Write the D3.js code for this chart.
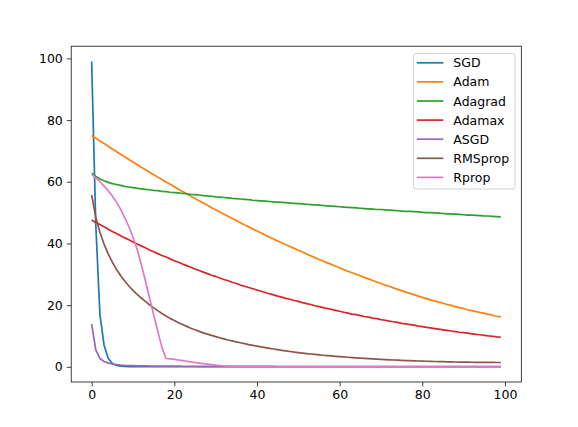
<!DOCTYPE html>
<html>
<head>
<meta charset="utf-8">
<script src="https://cdn.jsdelivr.net/npm/d3@7"></script>
<style>
  html, body { margin: 0; padding: 0; background: #fff; }
  svg { display: block; font-family: "DejaVu Sans", sans-serif; }
</style>
</head>
<body>
<div id="chart"></div>
<script>
// loss curves per optimizer, one value per epoch (0..99)
const sgd = [99, 46, 17, 7, 2.8, 1.1, 0.45, 0.2, 0.1, 0.06,
  0.05, 0.04, 0.04, 0.03, 0.03, 0.03, 0.03, 0.02, 0.02, 0.02,
  0.02, 0.02, 0.02, 0.02, 0.02, 0.02, 0.02, 0.02, 0.02, 0.02,
  0.02, 0.02, 0.02, 0.02, 0.02, 0.02, 0.02, 0.02, 0.02, 0.02,
  0.02, 0.02, 0.02, 0.02, 0.02, 0.02, 0.02, 0.02, 0.02, 0.02,
  0.02, 0.02, 0.02, 0.02, 0.02, 0.02, 0.02, 0.02, 0.02, 0.02,
  0.02, 0.02, 0.02, 0.02, 0.02, 0.02, 0.02, 0.02, 0.02, 0.02,
  0.02, 0.02, 0.02, 0.02, 0.02, 0.02, 0.02, 0.02, 0.02, 0.02,
  0.02, 0.02, 0.02, 0.02, 0.02, 0.02, 0.02, 0.02, 0.02, 0.02,
  0.02, 0.02, 0.02, 0.02, 0.02, 0.02, 0.02, 0.02, 0.02, 0.02];

const adam = [75.0, 74.1, 73.2, 72.4, 71.5, 70.6, 69.8, 68.9, 68.1, 67.2,
  66.4, 65.6, 64.7, 63.9, 63.1, 62.3, 61.5, 60.7, 59.9, 59.2,
  58.4, 57.6, 56.8, 56.1, 55.3, 54.6, 53.8, 53.1, 52.4, 51.6,
  50.9, 50.2, 49.5, 48.8, 48.1, 47.4, 46.7, 46.0, 45.4, 44.7,
  44.0, 43.4, 42.7, 42.1, 41.4, 40.8, 40.2, 39.6, 39.0, 38.4,
  37.8, 37.2, 36.6, 36.0, 35.4, 34.8, 34.3, 33.7, 33.2, 32.6,
  32.1, 31.5, 31.0, 30.5, 30.0, 29.5, 29.0, 28.5, 28.0, 27.5,
  27.0, 26.5, 26.1, 25.6, 25.1, 24.7, 24.2, 23.8, 23.4, 22.9,
  22.5, 22.1, 21.7, 21.3, 21.0, 20.6, 20.2, 19.9, 19.5, 19.2,
  18.9, 18.5, 18.2, 17.9, 17.6, 17.3, 17.0, 16.7, 16.4, 16.2];

const adagrad = [62.8, 61.7, 60.9, 60.3, 59.8, 59.4, 59.1, 58.8, 58.5, 58.3,
  58.1, 57.9, 57.7, 57.5, 57.4, 57.2, 57.1, 56.9, 56.8, 56.6,
  56.5, 56.4, 56.2, 56.1, 55.9, 55.8, 55.7, 55.5, 55.4, 55.3,
  55.1, 55.0, 54.9, 54.8, 54.6, 54.5, 54.4, 54.3, 54.2, 54.0,
  53.9, 53.8, 53.7, 53.6, 53.5, 53.4, 53.3, 53.2, 53.1, 53.0,
  52.9, 52.8, 52.7, 52.6, 52.5, 52.4, 52.3, 52.2, 52.1, 52.0,
  51.9, 51.8, 51.7, 51.6, 51.5, 51.4, 51.3, 51.2, 51.1, 51.0,
  51.0, 50.9, 50.8, 50.7, 50.6, 50.5, 50.4, 50.4, 50.3, 50.2,
  50.1, 50.0, 50.0, 49.9, 49.8, 49.7, 49.6, 49.6, 49.5, 49.4,
  49.3, 49.2, 49.2, 49.1, 49.0, 48.9, 48.9, 48.8, 48.7, 48.6];

const adamax = [47.6, 46.8, 46.1, 45.4, 44.6, 43.9, 43.2, 42.5, 41.8, 41.2,
  40.5, 39.8, 39.2, 38.6, 37.9, 37.3, 36.7, 36.1, 35.6, 35.0,
  34.4, 33.9, 33.3, 32.8, 32.3, 31.7, 31.2, 30.7, 30.2, 29.7,
  29.3, 28.8, 28.3, 27.9, 27.4, 27.0, 26.5, 26.1, 25.7, 25.3,
  24.9, 24.5, 24.1, 23.7, 23.3, 22.9, 22.6, 22.2, 21.9, 21.5,
  21.2, 20.8, 20.5, 20.2, 19.8, 19.5, 19.2, 18.9, 18.6, 18.3,
  18.0, 17.7, 17.4, 17.1, 16.9, 16.6, 16.3, 16.1, 15.8, 15.6,
  15.3, 15.1, 14.8, 14.6, 14.4, 14.1, 13.9, 13.7, 13.5, 13.2,
  13.0, 12.8, 12.6, 12.4, 12.2, 12.0, 11.8, 11.6, 11.4, 11.2,
  11.1, 10.9, 10.7, 10.5, 10.4, 10.2, 10.0, 9.9, 9.7, 9.6];

const asgd = [13.8, 5.5, 2.7, 1.7, 1.2, 0.9, 0.7, 0.55, 0.45, 0.4,
  0.35, 0.32, 0.3, 0.28, 0.26, 0.25, 0.24, 0.23, 0.22, 0.21,
  0.2, 0.19, 0.18, 0.18, 0.17, 0.17, 0.16, 0.16, 0.15, 0.15,
  0.14, 0.14, 0.14, 0.13, 0.13, 0.13, 0.12, 0.12, 0.12, 0.12,
  0.11, 0.11, 0.11, 0.11, 0.11, 0.1, 0.1, 0.1, 0.1, 0.1,
  0.1, 0.1, 0.1, 0.1, 0.1, 0.1, 0.1, 0.1, 0.1, 0.1,
  0.1, 0.1, 0.1, 0.1, 0.1, 0.1, 0.1, 0.1, 0.1, 0.1,
  0.1, 0.1, 0.1, 0.1, 0.1, 0.1, 0.1, 0.1, 0.1, 0.1,
  0.1, 0.1, 0.1, 0.1, 0.1, 0.1, 0.1, 0.1, 0.1, 0.1,
  0.1, 0.1, 0.1, 0.1, 0.1, 0.1, 0.1, 0.1, 0.1, 0.1];

const rmsprop = [55.7, 48.5, 43.6, 39.8, 36.6, 33.9, 31.6, 29.6, 27.8, 26.2,
  24.8, 23.5, 22.3, 21.2, 20.1, 19.1, 18.2, 17.3, 16.5, 15.7,
  15.0, 14.3, 13.7, 13.1, 12.5, 12.0, 11.5, 11.0, 10.6, 10.2,
  9.8, 9.4, 9.05, 8.7, 8.4, 8.1, 7.8, 7.5, 7.2, 6.95,
  6.7, 6.45, 6.2, 5.98, 5.76, 5.55, 5.35, 5.15, 4.96, 4.78,
  4.61, 4.45, 4.3, 4.15, 4.0, 3.87, 3.75, 3.63, 3.52, 3.41,
  3.3, 3.2, 3.1, 3.0, 2.9, 2.81, 2.72, 2.64, 2.56, 2.48,
  2.41, 2.34, 2.27, 2.21, 2.15, 2.09, 2.03, 1.98, 1.93, 1.88,
  1.84, 1.8, 1.76, 1.72, 1.68, 1.65, 1.62, 1.59, 1.56, 1.54,
  1.52, 1.5, 1.48, 1.46, 1.44, 1.43, 1.42, 1.41, 1.4, 1.4];

const rprop = [62.4, 61.3, 60.0, 58.6, 57.1, 55.4, 53.4, 51.1, 48.4, 45.4,
  42.0, 38.1, 33.2, 27.9, 22.4, 16.9, 11.5, 6.3, 2.7, 2.55,
  2.4, 2.2, 2.0, 1.8, 1.6, 1.4, 1.2, 1.0, 0.85, 0.7,
  0.55, 0.42, 0.3, 0.22, 0.15, 0.1, 0.08, 0.06, 0.05, 0.05,
  0.04, 0.04, 0.04, 0.04, 0.04, 0.04, 0.04, 0.04, 0.04, 0.04,
  0.04, 0.04, 0.04, 0.04, 0.04, 0.04, 0.04, 0.04, 0.04, 0.04,
  0.04, 0.04, 0.04, 0.04, 0.04, 0.04, 0.04, 0.04, 0.04, 0.04,
  0.04, 0.04, 0.04, 0.04, 0.04, 0.04, 0.04, 0.04, 0.04, 0.04,
  0.04, 0.04, 0.04, 0.04, 0.04, 0.04, 0.04, 0.04, 0.04, 0.04,
  0.04, 0.04, 0.04, 0.04, 0.04, 0.04, 0.04, 0.04, 0.04, 0.04];

const seriesNames = ['SGD', 'Adam', 'Adagrad', 'Adamax', 'ASGD', 'RMSprop', 'Rprop'];
const seriesValues = [sgd, adam, adagrad, adamax, asgd, rmsprop, rprop];
const xTicks = [0, 20, 40, 60, 80, 100];
const yTicks = [0, 20, 40, 60, 80, 100];

const colors = ['#1f77b4', '#ff7f0e', '#2ca02c', '#d62728', '#9467bd', '#8c564b', '#e377c2'];

const width = 578;
const height = 427;
const margin = { top: 46.2, right: 56.7, bottom: 45, left: 71.2 };
const plotW = width - margin.left - margin.right;
const plotH = height - margin.top - margin.bottom;

const svg = d3.select('#chart').append('svg')
  .attr('width', width)
  .attr('height', height);

// matplotlib style 5% margins around the data
const xMax = 99;
const yMin = d3.min(seriesValues, (s) => d3.min(s));
const yMax = d3.max(seriesValues, (s) => d3.max(s));
const xPad = xMax * 0.05;
const yPad = (yMax - yMin) * 0.05;

const x = d3.scaleLinear()
  .domain([-xPad, xMax + xPad])
  .range([0, plotW]);
const y = d3.scaleLinear()
  .domain([yMin - yPad, yMax + yPad])
  .range([plotH, 0]);

const g = svg.append('g')
  .attr('transform', `translate(${margin.left},${margin.top})`);

const line = d3.line()
  .x((d, i) => x(i))
  .y((d) => y(d));

g.selectAll('.series')
  .data(seriesValues)
  .enter().append('path')
  .attr('class', 'series')
  .attr('fill', 'none')
  .attr('stroke', (d, i) => colors[i])
  .attr('stroke-width', 1.7)
  .attr('stroke-linejoin', 'round')
  .attr('stroke-linecap', 'butt')
  .attr('d', line);

// axes
const xAxis = d3.axisBottom(x).tickValues(xTicks).tickSize(4.4).tickPadding(4);
const yAxis = d3.axisLeft(y).tickValues(yTicks).tickSize(4.4).tickPadding(4);

const xg = g.append('g')
  .attr('transform', `translate(0,${plotH})`)
  .call(xAxis);
const yg = g.append('g').call(yAxis);

[xg, yg].forEach((ax) => {
  ax.select('.domain').remove();
  ax.selectAll('.tick line').attr('stroke', '#000').attr('stroke-width', 0.75);
  ax.selectAll('.tick text')
    .attr('fill', '#000')
    .style('font-family', '"DejaVu Sans", sans-serif')
    .style('font-size', '12.5px');
});

// frame
g.append('rect')
  .attr('x', 0)
  .attr('y', 0)
  .attr('width', plotW)
  .attr('height', plotH)
  .attr('fill', 'none')
  .attr('stroke', '#000')
  .attr('stroke-width', 0.75);

// legend
const legend = svg.append('g')
  .attr('transform', 'translate(413.5,53.5)');
legend.append('rect')
  .attr('width', 101.5)
  .attr('height', 135.5)
  .attr('rx', 2.5)
  .attr('fill', 'rgba(255,255,255,0.8)')
  .attr('stroke', '#cccccc')
  .attr('stroke-width', 0.9);

const rows = legend.selectAll('.row')
  .data(seriesNames)
  .enter().append('g')
  .attr('class', 'row')
  .attr('transform', (d, i) => `translate(0,${9.3 + i * 19.1})`);
rows.append('line')
  .attr('x1', 3.3)
  .attr('x2', 29.8)
  .attr('stroke', (d, i) => colors[i])
  .attr('stroke-width', 1.7);
rows.append('text')
  .attr('x', 39.8)
  .attr('dy', '0.36em')
  .attr('fill', '#000')
  .style('font-size', '12.5px')
  .text((d) => d);
</script>
</body>
</html>
